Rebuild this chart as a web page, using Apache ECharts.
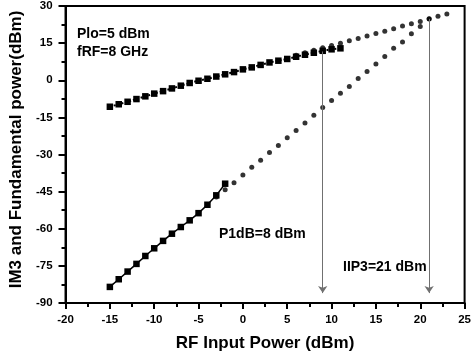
<!DOCTYPE html>
<html>
<head>
<meta charset="utf-8">
<script src="https://cdn.jsdelivr.net/npm/echarts@6/dist/echarts.min.js"></script>
<style>
html,body{margin:0;padding:0;background:#fff;}
#c{width:474px;height:357px;}
</style>
</head>
<body>
<div id="c"></div>
<script>
// Fundamental output (measured)
var fundX = [-15,-14,-13,-12,-11,-10,-9,-8,-7,-6,-5,-4,-3,-2,-1,0,1,2,3,4,5,6,7,8,9,10,11];
var fundY = [-10.7,-9.7,-8.7,-7.6,-6.5,-5.4,-4.4,-3.3,-2.2,-1.1,-0.2,0.6,1.5,2.4,3.3,4.4,5.2,6.2,7.2,7.9,8.6,9.5,10.3,11.1,11.9,12.5,12.9];
// Fundamental linear extrapolation (dots)
var fundExtX = [6,7,8,9,10,11,12,13,14,15,16,17,18,19,20,21,22,23];
var fundExtY = [10.1,11.1,12.1,13.1,14.0,15.0,15.95,16.9,17.9,18.9,19.8,20.85,21.9,22.8,23.75,24.8,25.85,26.8];
// IM3 (measured)
var im3X = [-15,-14,-13,-12,-11,-10,-9,-8,-7,-6,-5,-4,-3,-2];
var im3Y = [-83.5,-80.4,-77.3,-74.2,-71.0,-67.9,-64.9,-62.0,-59.3,-56.6,-53.7,-50.3,-46.5,-41.8];
// IM3 extrapolation (dots)
var im3ExtX = [-4,-3,-2,-1,0,1,2,3,4,5,6,7,8,9,10,11,12,13,14,15,16,17,18,19,20,21];
var im3ExtY = [-50.3,-47.2,-44.2,-41.4,-38.3,-35.2,-32.3,-29.2,-26.4,-23.2,-20.3,-17.3,-14.1,-11.05,-8.2,-5.25,-2.5,0.67,3.55,6.6,9.6,12.9,15.5,18.8,21.7,24.7];
// Arrow markers: [x, yTop, yBottom]
var p1dbArrow = [9, 11.6, -86];
var iip3Arrow = [21, 24.8, -86];
// Axis ticks
var xTicks = [-20,-15,-10,-5,0,5,10,15,20,25];
var yTicks = [-90,-75,-60,-45,-30,-15,0,15,30];

function pairs(xs, ys){ return xs.map(function(x,i){ return [x, ys[i]]; }); }

var FONT = 'Arial, "Liberation Sans", sans-serif';
var chart = echarts.init(document.getElementById('c'), null, {renderer:'canvas'});
chart.setOption({
  animation: false,
  backgroundColor: '#fff',
  grid: {left: 58, right: 7, top: 5, bottom: 48, show: true, borderColor: '#000', borderWidth: 2, backgroundColor: 'transparent'},
  xAxis: {
    type: 'value', min: xTicks[0], max: xTicks[xTicks.length-1], interval: 5,
    name: 'RF Input Power (dBm)', nameLocation: 'middle', nameGap: 32,
    nameTextStyle: {fontFamily: FONT, fontWeight: 'bold', fontSize: 17, color: '#000'},
    axisLine: {onZero: false, lineStyle: {color: '#000', width: 2}},
    axisTick: {show: true, inside: false, length: 6, lineStyle: {color: '#000', width: 2}},
    minorTick: {show: true, splitNumber: 2, length: 4, lineStyle: {color: '#000', width: 2}},
    splitLine: {show: false},
    axisLabel: {fontFamily: FONT, fontWeight: 'bold', fontSize: 11.5, color: '#000', margin: 11}
  },
  yAxis: {
    type: 'value', min: yTicks[0], max: yTicks[yTicks.length-1], interval: 15,
    name: 'IM3 and Fundamental power(dBm)', nameLocation: 'middle', nameGap: 40,
    nameTextStyle: {fontFamily: FONT, fontWeight: 'bold', fontSize: 17, color: '#000', padding: [0, 0, 0, 10]},
    axisLine: {onZero: false, lineStyle: {color: '#000', width: 2}},
    axisTick: {show: true, inside: false, length: 7, lineStyle: {color: '#000', width: 2}},
    minorTick: {show: true, splitNumber: 2, length: 4, lineStyle: {color: '#000', width: 2}},
    splitLine: {show: false},
    axisLabel: {fontFamily: FONT, fontWeight: 'bold', fontSize: 11.5, color: '#000', margin: 13}
  },
  series: [
    {
      type: 'scatter', data: pairs(fundExtX, fundExtY), symbol: 'circle', symbolSize: 5,
      itemStyle: {color: '#000'}, silent: true, z: 2
    },
    {
      type: 'scatter', data: pairs(im3ExtX, im3ExtY), symbol: 'circle', symbolSize: 5,
      itemStyle: {color: '#000'}, silent: true, z: 2
    },
    {
      type: 'line', data: pairs(fundX, fundY), symbol: 'rect', symbolSize: 6.5,
      itemStyle: {color: '#000'}, lineStyle: {color: '#000', width: 2, type: 'dotted'},
      silent: true, z: 3
    },
    {
      type: 'line', data: pairs(im3X, im3Y), symbol: 'rect', symbolSize: 6.5,
      itemStyle: {color: '#000'}, lineStyle: {color: '#000', width: 1.5},
      silent: true, z: 3,
      markLine: {
        silent: true, animation: false,
        symbol: ['none', 'arrow'], symbolSize: 7,
        label: {show: false},
        lineStyle: {color: '#707070', width: 1, type: 'solid'},
        emphasis: {disabled: true},
        data: [
          [{coord: [p1dbArrow[0], p1dbArrow[1]]}, {coord: [p1dbArrow[0], p1dbArrow[2]]}],
          [{coord: [iip3Arrow[0], iip3Arrow[1]]}, {coord: [iip3Arrow[0], iip3Arrow[2]]}]
        ]
      }
    }
  ],
  graphic: [
    {type: 'text', left: 77, top: 27, style: {text: 'Plo=5 dBm', font: 'bold 14px ' + FONT, fill: '#000'}},
    {type: 'text', left: 77, top: 45, style: {text: 'fRF=8 GHz', font: 'bold 14px ' + FONT, fill: '#000'}},
    {type: 'text', left: 219, top: 227, style: {text: 'P1dB=8 dBm', font: 'bold 14px ' + FONT, fill: '#000'}},
    {type: 'text', left: 343, top: 260, style: {text: 'IIP3=21 dBm', font: 'bold 14px ' + FONT, fill: '#000'}}
  ]
});
</script>
</body>
</html>
